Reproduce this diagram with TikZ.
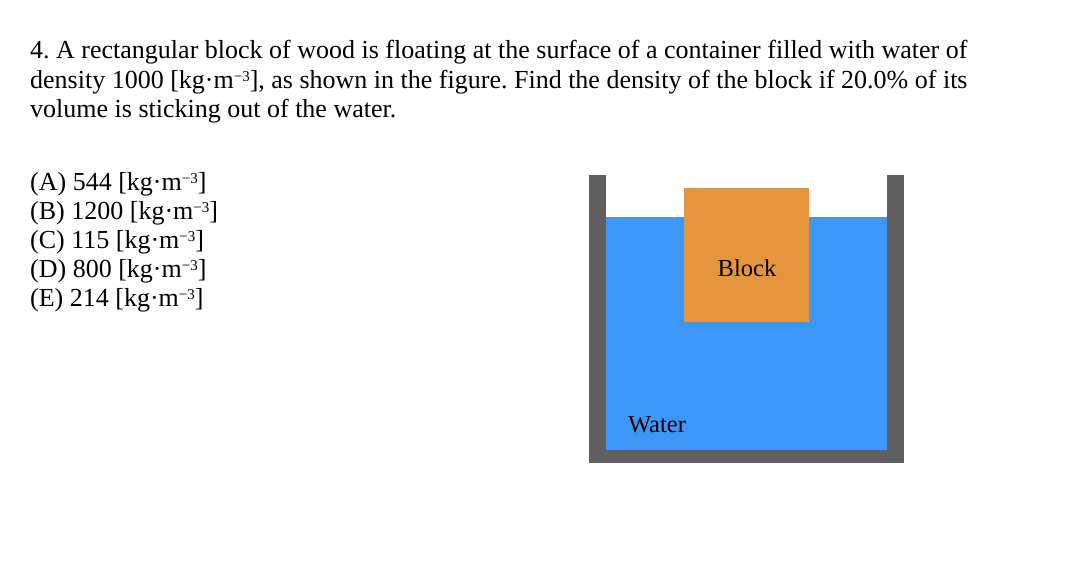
\documentclass[tikz,border=0pt]{standalone}
\usepackage{fontspec}
\setmainfont{Liberation Serif}
\definecolor{wall}{HTML}{5F5F61}
\definecolor{water}{HTML}{3D97F6}
\definecolor{block}{HTML}{E5953B}
\newcommand{\unitx}{[kg·m{\fontsize{15}{15}\selectfont\raisebox{0.45em}{−3}}]}
\begin{document}
\frenchspacing
\begin{tikzpicture}[x=1pt,y=-1pt,
  txt/.style={anchor=base west,inner sep=0pt,font=\fontsize{26}{29}\selectfont},
  lbl/.style={inner sep=0pt,font=\fontsize{24.5}{28}\selectfont}]
\useasboundingbox (0,0) rectangle (1066,582);
\fill[white] (0,0) rectangle (1066,582);
\node[txt] (l1) at (30,58) {4. A rectangular block of wood is floating at the surface of a container filled with water of};
\node[txt] (l2) at (30,88) {density 1000 \unitx, as shown in the figure. Find the density of the block if 20.0\% of its};
\node[txt] (l3) at (30,117) {volume is sticking out of the water.};
\node[txt] (a) at (30,190) {(A) 544 \unitx};
\node[txt] (b) at (30,219) {(B) 1200 \unitx};
\node[txt] (c) at (30,248) {(C) 115 \unitx};
\node[txt] (d) at (30,277) {(D) 800 \unitx};
\node[txt] (e) at (30,306) {(E) 214 \unitx};
\fill[water] (606,217) rectangle (887,450);
\fill[wall] (589,175) rectangle (606,463);
\fill[wall] (887,175) rectangle (904,463);
\fill[wall] (589,450) rectangle (904,463);
\fill[block] (684,188) rectangle (809,322);
\node[lbl] (bl) at (747,268) {Block};
\node[lbl] (wl) at (657,425) {Water};
\end{tikzpicture}
\end{document}
